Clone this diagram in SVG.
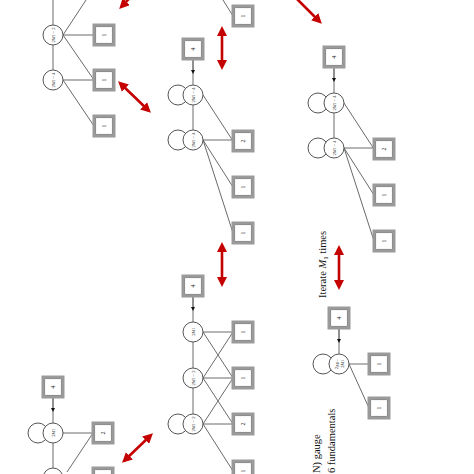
<svg xmlns="http://www.w3.org/2000/svg" width="474" height="474" viewBox="0 0 474 474">
<defs>
<style>
.ln{stroke:#6a6a6a;stroke-width:1;fill:none}
.rd{stroke:#c40000;stroke-width:2.6;fill:none;marker-start:url(#rh);marker-end:url(#rh)}
.cir{fill:#fff;stroke:#555;stroke-width:1}
.bo{fill:#fff;stroke:#9a9a9a;stroke-width:3}
.bi{fill:none;stroke:#444;stroke-width:0.5}
.bt{font-family:"Liberation Serif",serif;font-size:6px;fill:#222;text-anchor:middle;dominant-baseline:central}
.ct{font-family:"Liberation Serif",serif;font-size:4.6px;fill:#222;text-anchor:middle;dominant-baseline:central}
.tx{font-family:"Liberation Serif",serif;font-size:10.5px;fill:#111}
</style>
<marker id="rh" viewBox="0 0 10 10" refX="6" refY="5" markerWidth="3.9" markerHeight="3.9" orient="auto-start-reverse" markerUnits="strokeWidth">
<path d="M0,0L10,5L0,10z" fill="#c40000"/>
</marker>
<marker id="dh" viewBox="0 0 10 10" refX="5" refY="5" markerWidth="4" markerHeight="4" orient="auto" markerUnits="userSpaceOnUse">
<path d="M0,0L10,5L0,10z" fill="#111"/>
</marker>
<g id="box"><rect class="bo" x="-10" y="-10" width="20" height="20"/><rect class="bi" x="-8.2" y="-8.2" width="16.4" height="16.4"/></g>
</defs>

<g id="connectors">
<path class="ln" d="M53,0V25M53,45V70M63,35L86,0M63,35H94M63,35L94,80M63,80H94M63,80L94,126"/>
<path class="ln" d="M223,0L233,16M193,59V85M193,105V130M203,95L233,141M203,140H233M203,140L233,187M203,140L233,233"/>
<path class="ln" d="M193,59V72" marker-end="url(#dh)"/>
<path class="ln" d="M334,67V93M334,113V138M344,103L374,149M344,148H374M344,148L374,195M344,148L374,241"/>
<path class="ln" d="M334,67V80" marker-end="url(#dh)"/>
<path class="ln" d="M193,296V322M193,342V368M193,388V414M203,332H233M203,332L233,378M203,378L233,332M203,378H233M203,378L233,424M203,424L233,378M203,424H233M203,424L233,471"/>
<path class="ln" d="M193,296V309" marker-end="url(#dh)"/>
<path class="ln" d="M339,328V354M349,364H369M349,364L369,408"/>
<path class="ln" d="M339,328V341" marker-end="url(#dh)"/>
<path class="ln" d="M53,397V423M53,443V468M63,433H93M67,472L93,433"/>
<path class="ln" d="M53,397V410" marker-end="url(#dh)"/>
<path class="rd" d="M121,84L148,110"/>
<path class="rd" d="M147,-20L122,6"/>
<path class="rd" d="M290,-8L319,21"/>
<path class="rd" d="M222,30V66"/>
<path class="rd" d="M222,246V283"/>
<path class="rd" d="M339,249V286"/>
<path class="rd" d="M125,460L150,436"/>
</g>

<g id="panelA">
<g id="A1"><circle class="cir" cx="53" cy="35" r="10"/><text class="ct" transform="translate(53,35) rotate(-90)">2<tspan font-style="italic">M</tspan><tspan font-size="3.2" dy="1">1</tspan><tspan dy="-1"> − 2</tspan></text></g>
<g id="A2"><circle class="cir" cx="53" cy="80" r="10"/><text class="ct" transform="translate(53,80) rotate(-90)">2<tspan font-style="italic">M</tspan><tspan font-size="3.2" dy="1">1</tspan><tspan dy="-1"> − 4</tspan></text></g>
<g id="Ab1" transform="translate(104,35)"><use href="#box"/><text class="bt" transform="rotate(-90)">1</text></g>
<g id="Ab2" transform="translate(104,80)"><use href="#box"/><text class="bt" transform="rotate(-90)">1</text></g>
<g id="Ab3" transform="translate(104,126)"><use href="#box"/><text class="bt" transform="rotate(-90)">1</text></g>
</g>

<g id="panelB">
<g id="Btop" transform="translate(243,16)"><use href="#box"/><text class="bt" transform="rotate(-90)">1</text></g>
<g id="B4" transform="translate(193,49)"><use href="#box"/><text class="bt" transform="rotate(-90)">4</text></g>
<g id="B1"><circle class="cir" cx="178" cy="95" r="10"/><circle class="cir" cx="193" cy="95" r="10"/><text class="ct" transform="translate(193,95) rotate(-90)">2<tspan font-style="italic">M</tspan><tspan font-size="3.2" dy="1">1</tspan><tspan dy="-1"> − 4</tspan></text></g>
<g id="B2"><circle class="cir" cx="178" cy="140" r="10"/><circle class="cir" cx="193" cy="140" r="10"/><text class="ct" transform="translate(193,140) rotate(-90)">2<tspan font-style="italic">M</tspan><tspan font-size="3.2" dy="1">1</tspan><tspan dy="-1"> − 4</tspan></text></g>
<g id="Bb1" transform="translate(243,141)"><use href="#box"/><text class="bt" transform="rotate(-90)">2</text></g>
<g id="Bb2" transform="translate(243,187)"><use href="#box"/><text class="bt" transform="rotate(-90)">1</text></g>
<g id="Bb3" transform="translate(243,233)"><use href="#box"/><text class="bt" transform="rotate(-90)">1</text></g>
</g>

<g id="panelC">
<g id="C4" transform="translate(334,57)"><use href="#box"/><text class="bt" transform="rotate(-90)">4</text></g>
<g id="C1"><circle class="cir" cx="318" cy="103" r="10"/><circle class="cir" cx="334" cy="103" r="10"/><text class="ct" transform="translate(334,103) rotate(-90)">2<tspan font-style="italic">M</tspan><tspan font-size="3.2" dy="1">1</tspan><tspan dy="-1"> − 4</tspan></text></g>
<g id="C2"><circle class="cir" cx="318" cy="148" r="10"/><circle class="cir" cx="334" cy="148" r="10"/><text class="ct" transform="translate(334,148) rotate(-90)">2<tspan font-style="italic">M</tspan><tspan font-size="3.2" dy="1">1</tspan><tspan dy="-1"> − 4</tspan></text></g>
<g id="Cb1" transform="translate(384,149)"><use href="#box"/><text class="bt" transform="rotate(-90)">2</text></g>
<g id="Cb2" transform="translate(384,195)"><use href="#box"/><text class="bt" transform="rotate(-90)">1</text></g>
<g id="Cb3" transform="translate(384,241)"><use href="#box"/><text class="bt" transform="rotate(-90)">1</text></g>
</g>

<g id="panelD">
<g id="D4" transform="translate(193,286)"><use href="#box"/><text class="bt" transform="rotate(-90)">4</text></g>
<g id="D1"><circle class="cir" cx="193" cy="332" r="10"/><text class="ct" transform="translate(193,332) rotate(-90)">2<tspan font-style="italic">M</tspan><tspan font-size="3.2" dy="1">1</tspan></text></g>
<g id="D2"><circle class="cir" cx="193" cy="378" r="10"/><text class="ct" transform="translate(193,378) rotate(-90)">2<tspan font-style="italic">M</tspan><tspan font-size="3.2" dy="1">1</tspan><tspan dy="-1"> − 2</tspan></text></g>
<g id="D3"><circle class="cir" cx="178" cy="424" r="10"/><circle class="cir" cx="193" cy="424" r="10"/><text class="ct" transform="translate(193,424) rotate(-90)">2<tspan font-style="italic">M</tspan><tspan font-size="3.2" dy="1">1</tspan><tspan dy="-1"> − 2</tspan></text></g>
<g id="Db1" transform="translate(243,332)"><use href="#box"/><text class="bt" transform="rotate(-90)">1</text></g>
<g id="Db2" transform="translate(243,378)"><use href="#box"/><text class="bt" transform="rotate(-90)">1</text></g>
<g id="Db3" transform="translate(243,424)"><use href="#box"/><text class="bt" transform="rotate(-90)">2</text></g>
<g id="Db4" transform="translate(243,471)"><use href="#box"/><text class="bt" transform="rotate(-90)">1</text></g>
</g>

<g id="panelE">
<g id="E4" transform="translate(339,318)"><use href="#box"/><text class="bt" transform="rotate(-90)">4</text></g>
<g id="E1"><circle class="cir" cx="323" cy="364" r="10"/><circle class="cir" cx="339" cy="364" r="10"/>
<text class="ct" transform="translate(336.5,364) rotate(-90)">2<tspan font-style="italic">M</tspan><tspan font-size="3.2" dy="1">1</tspan><tspan dy="-1">−</tspan></text>
<text class="ct" transform="translate(342,364) rotate(-90)">2<tspan font-style="italic">M</tspan><tspan font-size="3.2" dy="1">1</tspan></text></g>
<g id="Eb1" transform="translate(379,364)"><use href="#box"/><text class="bt" transform="rotate(-90)">1</text></g>
<g id="Eb2" transform="translate(379,408)"><use href="#box"/><text class="bt" transform="rotate(-90)">1</text></g>
<text id="iterate" class="tx" transform="translate(326,298) rotate(-90)">Iterate <tspan font-style="italic">M</tspan><tspan font-size="7" dy="2">1</tspan><tspan dy="-2"> times</tspan></text>
<text id="gauge" class="tx" transform="translate(320,473) rotate(-90)">N) gauge</text>
<text id="fund" class="tx" transform="translate(335,473) rotate(-90)">6 fundamentals</text>
</g>

<g id="panelF">
<g id="F4" transform="translate(53,387)"><use href="#box"/><text class="bt" transform="rotate(-90)">4</text></g>
<g id="F1"><circle class="cir" cx="38" cy="433" r="10"/><circle class="cir" cx="53" cy="433" r="10"/><text class="ct" transform="translate(53,433) rotate(-90)">2<tspan font-style="italic">M</tspan><tspan font-size="3.2" dy="1">1</tspan></text></g>
<g id="F2"><circle class="cir" cx="53" cy="478" r="10"/></g>
<g id="Fb1" transform="translate(103,433)"><use href="#box"/><text class="bt" transform="rotate(-90)">2</text></g>
<g id="Fb2" transform="translate(103,478)"><use href="#box"/></g>
</g>
</svg>
